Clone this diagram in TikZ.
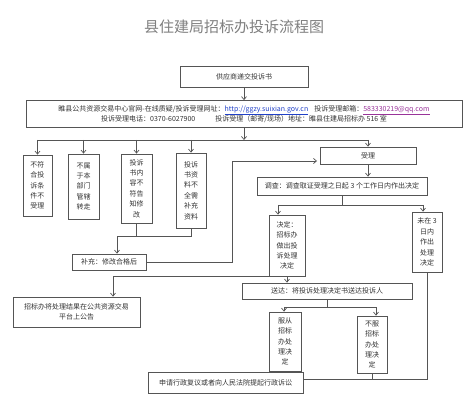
\documentclass[tikz,border=0pt]{standalone}
\usepackage{fontspec}
\setmainfont{Noto Sans CJK SC}
\usetikzlibrary{arrows.meta}
\definecolor{linegray}{HTML}{555555}
\definecolor{textgray}{HTML}{333333}
\definecolor{titlegray}{HTML}{808080}
\definecolor{urlblue}{HTML}{2040C8}
\definecolor{mailpurple}{HTML}{993399}

\begin{document}
\begin{tikzpicture}[x=1pt, y=-1pt,
    >={Straight Barb[length=3pt,width=5pt]},
    box/.style={draw=linegray, line width=0.8pt, inner sep=0pt, align=center,
        text=textgray, font=\fontsize{7}{10.4}\selectfont},
    link/.style={draw=linegray, line width=0.7pt}]
    \fill[white] (0,0) rectangle (474,398);
    \useasboundingbox (0,0) rectangle (474,398);

    \node[text=titlegray, font=\fontsize{15}{18}\selectfont] (title) at (234,27) {县住建局招标办投诉流程图};

    \node[box, minimum width=128pt, minimum height=21pt] (submit) at (244,77) {供应商递交投诉书};
    \node[box, minimum width=436pt, minimum height=27pt] (info) at (244,114) {
        睢县公共资源交易中心官网-在线质疑/投诉受理网址：\textcolor{urlblue}{\underline{http://ggzy.suixian.gov.cn}}\hspace{6pt}投诉受理邮箱：\textcolor{mailpurple}{\underline{583330219@qq.com}}\\
        投诉受理电话：0370-6027900\hspace{20pt}投诉受理（邮寄/现场）地址：睢县住建局招标办 516 室
    };

    \node[box, minimum width=29pt, minimum height=61pt] (refuse) at (37.5,185.5) {不符\\合投\\诉条\\件不\\受理};
    \node[box, minimum width=31pt, minimum height=65pt] (transfer) at (83.5,186.5) {不属\\于本\\部门\\管辖\\转走};
    \node[box, minimum width=31pt, minimum height=69pt] (revise) at (136.5,188.5) {投诉\\书内\\容不\\符告\\知修\\改};
    \node[box, minimum width=30pt, minimum height=75pt] (supply) at (191,190.5) {投诉\\书资\\料不\\全需\\补充\\资料};
    \node[box, minimum width=74pt, minimum height=16pt] (amend) at (109,262) {补充：修改合格后};

    \node[box, minimum width=96pt, minimum height=17pt] (accept) at (368,155.5) {受理};
    \node[box, minimum width=170pt, minimum height=18pt] (probe) at (342,186) {调查：调查取证受理之日起 3 个工作日内作出决定};
    \node[box, minimum width=36pt, minimum height=61pt] (decide) at (287,245.5) {决定：\\招标办\\做出投\\诉处理\\决定};
    \node[box, minimum width=30pt, minimum height=60pt] (overdue) at (427,242) {未在 3\\日内\\作出\\处理\\决定};
    \node[box, minimum width=170pt, minimum height=16pt] (deliver) at (327,291) {送达：将投诉处理决定书送达投诉人};
    \node[box, minimum width=127pt, minimum height=30pt] (publish) at (76.5,312) {招标办将处理结果在公共资源交易\\平台上公告};
    \node[box, minimum width=32pt, minimum height=59pt] (obey) at (285,341.5) {服从\\招标\\办处\\理决\\定};
    \node[box, minimum width=30pt, minimum height=57pt] (object) at (372,344.5) {不服\\招标\\办处\\理决\\定};
    \node[box, minimum width=155pt, minimum height=21pt] (appeal) at (225.5,382.5) {申请行政复议或者向人民法院提起行政诉讼};

    \coordinate (fork1) at (244,140);
    \coordinate (join1) at (117,236);
    \coordinate (loop) at (232,161);
    \coordinate (loopend) at (317,161);
    \coordinate (d1) at (278,205);
    \coordinate (d2) at (423,205);
    \coordinate (s1) at (284,307);
    \coordinate (s2) at (376,307);
    \coordinate (base) at (427,379);

    \draw[link,->] (submit.south) -- (info.north);
    \draw[link,->] (info.south) -- (fork1);
    \draw[link] (refuse.north |- fork1) -- (accept.north |- fork1);
    \foreach \b in {refuse, transfer, revise, supply, accept}
        \draw[link,->] (\b.north |- fork1) -- (\b.north);

    \draw[link] (revise.south) -- (revise.south |- join1);
    \draw[link,->] (supply.south) |- (join1) -- (join1 |- amend.north);
    \draw[link,->] (amend.east) -| (loop) -- (loopend);

    \draw[link,->] (accept.south) -- (accept.south |- probe.north);
    \draw[link] (probe.south) -- (probe.south |- d1);
    \draw[link] (d1) -- (d2);
    \draw[link,->] (d1) -- (d1 |- decide.north);
    \draw[link,->] (d2) -- (d2 |- overdue.north);

    \draw[link,->] (decide.south) -- (decide.south |- deliver.north);
    \draw[link,->] (decide.south west) -| ([xshift=36.5pt]publish.north);
    \draw[link] (deliver.south) -- (deliver.south |- s1);
    \draw[link] (s1) -- (s2);
    \draw[link,->] (s1) -- (s1 |- obey.north);
    \draw[link,->] (s2) -- (s2 |- object.north);

    \draw[link] (overdue.south) -- (base) -- (base -| appeal.east);
    \draw[link] (object.south) -- (object.south |- base);
\end{tikzpicture}
\end{document}
